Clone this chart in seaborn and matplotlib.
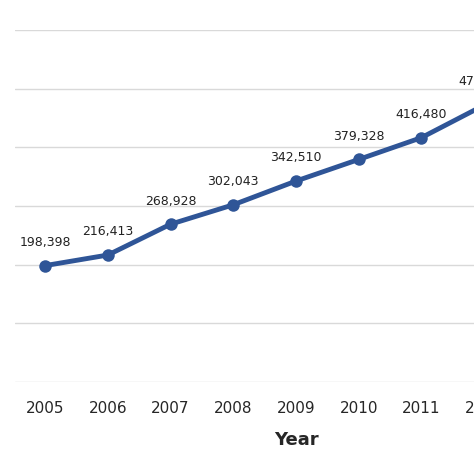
import matplotlib
matplotlib.use("Agg")
import matplotlib.pyplot as plt
import seaborn as sns
import pandas as pd

years = [2005, 2006, 2007, 2008, 2009, 2010, 2011, 2012]
values = [198398, 216413, 268928, 302043, 342510, 379328, 416480, 471891]
labels = ["198,398", "216,413", "268,928", "302,043", "342,510", "379,328", "416,480", "471,891"]

df = pd.DataFrame({"Year": years, "Value": values})

sns.set_style("white")
plt.rcParams["font.family"] = ["DejaVu Sans"]

fig = plt.figure(figsize=(4.74, 4.74), dpi=100)
ax = fig.add_axes([15 / 474, 92 / 474, 513 / 474, 352 / 474])

sns.lineplot(data=df, x="Year", y="Value", ax=ax, color="#2F5597",
             linewidth=3.5, marker="o", markersize=9, markeredgewidth=0)

for x, y, s in zip(years, values, labels):
    ax.annotate(s, (x, y), xytext=(0, 12), textcoords="offset points",
                ha="center", va="bottom", fontsize=9, color="#222222")

ax.set_xlim(2004.52, 2012.7)
ax.set_ylim(0, 600000)
ax.set_yticks(range(0, 600001, 100000))
ax.set_yticklabels([])
ax.set_xticks(years)
ax.set_xticklabels([str(y) for y in years], fontsize=11)
ax.tick_params(axis="x", length=0, pad=14)
ax.tick_params(axis="y", length=0)
ax.grid(axis="y", color="#d9d9d9", linewidth=1)
ax.set_axisbelow(True)
for sp in ax.spines.values():
    sp.set_visible(False)
ax.set_ylabel("")
ax.set_xlabel("")
fig.text(296 / 474, 1 - 440 / 474, "Year", ha="center", va="center",
         fontsize=13, fontweight="bold")

fig.savefig("out.png", dpi=100)
